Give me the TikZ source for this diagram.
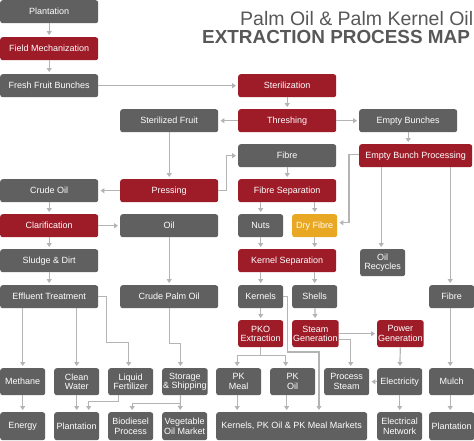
\documentclass[tikz,border=0pt]{standalone}
\usepackage{fontspec}
\setmainfont{Liberation Sans}
\usepackage{tikz}
\usetikzlibrary{arrows.meta, positioning}
\usepackage{xcolor}
\definecolor{boxgray}{RGB}{96,96,96}
\definecolor{boxred}{RGB}{158,27,40}
\definecolor{boxyellow}{RGB}{233,168,36}
\definecolor{linegray}{RGB}{180,180,180}
\definecolor{titlegray}{RGB}{88,88,88}

\begin{document}
\begin{tikzpicture}[
  x=1pt, y=-1pt,
  box/.style={rectangle, rounded corners=2.5pt, anchor=north west, minimum height=23pt, inner sep=1pt, align=center, text=white, font=\fontsize{9}{9.6}\selectfont},
  gbox/.style={box, fill=boxgray},
  rbox/.style={box, fill=boxred},
  ybox/.style={box, fill=boxyellow},
  wide/.style={minimum width=98pt},
  small/.style={minimum width=45pt},
  tall/.style={minimum height=27pt},
  title/.style={anchor=base west, inner sep=0pt, text=titlegray},
  arrow/.style={-{Triangle[length=4pt, width=5pt]}, line width=1.2pt, linegray, shorten >=2pt},
  link/.style={line width=1.2pt, linegray}
]
\useasboundingbox (0,0) rectangle (474,440);

% title
\node[title, font=\fontsize{19.5}{20}\selectfont] (maintitle) at (240,25) {Palm Oil \& Palm Kernel Oil};
\node[title, font=\bfseries\fontsize{18.9}{20}\selectfont] (subtitle) at (202,43) {EXTRACTION PROCESS MAP};

% fruit line
\node[gbox, wide] (plant) at (0,0) {Plantation};
\node[rbox, wide] (fieldmech) at (0,37) {Field Mechanization};
\node[gbox, wide] (ffb) at (0,74) {Fresh Fruit Bunches};
\node[rbox, wide] (steril) at (238,74) {Sterilization};
\node[gbox, wide] (sfruit) at (120,109) {Sterilized Fruit};
\node[rbox, wide] (thresh) at (238,109) {Threshing};
\node[gbox, wide] (ebunch) at (359,109) {Empty Bunches};
\node[gbox, wide] (fibre) at (238,144) {Fibre};
\node[rbox, minimum width=113pt] (ebproc) at (359,144) {Empty Bunch Processing};

% oil line
\node[gbox, wide] (crude) at (0,179) {Crude Oil};
\node[rbox, wide] (press) at (120,179) {Pressing};
\node[rbox, wide] (fibresep) at (238,179) {Fibre Separation};
\node[rbox, wide] (clarif) at (0,214) {Clarification};
\node[gbox, wide] (oil) at (120,214) {Oil};
\node[gbox, small] (nuts) at (238,214) {Nuts};
\node[ybox, small] (dryfibre) at (292,214) {Dry Fibre};
\node[gbox, wide] (sludge) at (0,249) {Sludge \& Dirt};
\node[rbox, wide] (kernelsep) at (238,249) {Kernel Separation};
\node[gbox, small, tall] (recycle) at (360,249) {Oil\\Recycles};
\node[gbox, wide] (effluent) at (0,285) {Effluent Treatment};
\node[gbox, wide] (cpo) at (120,285) {Crude Palm Oil};
\node[gbox, small] (kernels) at (238,285) {Kernels};
\node[gbox, small] (shells) at (292,285) {Shells};
\node[gbox, small] (fibretwo) at (429,285) {Fibre};
\node[rbox, small, tall] (pko) at (238,320) {PKO\\Extraction};
\node[rbox, small, tall] (steamgen) at (292,320) {Steam\\Generation};
\node[rbox, small, tall] (powergen) at (377,320) {Power\\Generation};

% products
\node[gbox, small, tall] (methane) at (0,368) {Methane};
\node[gbox, small, tall] (water) at (54,368) {Clean\\Water};
\node[gbox, small, tall] (liqfert) at (108,368) {Liquid\\Fertilizer};
\node[gbox, small, tall] (storage) at (162,368) {Storage\\\& Shipping};
\node[gbox, small, tall] (pkmeal) at (216,368) {PK\\Meal};
\node[gbox, small, tall] (pkoil) at (270,368) {PK\\Oil};
\node[gbox, small, tall] (psteam) at (324,368) {Process\\Steam};
\node[gbox, small, tall] (electric) at (377,368) {Electricity};
\node[gbox, small, tall] (mulch) at (429,368) {Mulch};

% markets
\node[gbox, small, minimum height=28pt] (energy) at (0,412) {Energy};
\node[gbox, small, minimum height=28pt] (planttwo) at (54,412) {Plantation};
\node[gbox, small, minimum height=28pt] (biodiesel) at (108,412) {Biodiesel\\Process};
\node[gbox, small, minimum height=28pt] (vegoil) at (162,412) {Vegetable\\Oil Market};
\node[gbox, minimum width=151pt, minimum height=28pt] (markets) at (216,412) {Kernels, PK Oil \& PK Meal Markets};
\node[gbox, small, minimum height=28pt] (network) at (377,412) {Electrical\\Network};
\node[gbox, small, minimum height=28pt] (plantthree) at (429,412) {Plantation};

\draw[arrow] (plant) -- (fieldmech);
\draw[arrow] (fieldmech) -- (ffb);
\draw[arrow] (ffb) -- (steril);
\draw[arrow] (steril) -- (thresh);
\draw[arrow] (thresh) -- (sfruit);
\draw[arrow] (thresh) -- (ebunch);
\draw[arrow] (ebunch.south) -- (ebunch.south |- ebproc.north);
\draw[arrow] (sfruit) -- (press);
\draw[arrow] (press) -- (crude);
\draw[arrow] (press.east) -- ++(8,0) |- (fibre.west);
\draw[arrow] (fibre) -- (fibresep);
\draw[arrow] (nuts.north |- fibresep.south) -- (nuts.north);
\draw[arrow] (dryfibre.north |- fibresep.south) -- (dryfibre.north);
\draw[arrow] ([yshift=1pt]ebproc.west) -- ++(-10,0) |- ([yshift=3pt]dryfibre.east);
\draw[arrow] ([xshift=-1.5pt]recycle.north |- ebproc.south) -- ([xshift=-1.5pt]recycle.north);
\draw[arrow] ([xshift=-1.5pt]fibretwo.north |- ebproc.south) -- ([xshift=-1.5pt]fibretwo.north);

\draw[arrow] (crude) -- (clarif);
\draw[arrow] (clarif) -- (oil);
\draw[arrow] (clarif) -- (sludge);
\draw[arrow] (sludge) -- (effluent);
\draw[arrow] (oil) -- (cpo);
\draw[arrow] (nuts.south) -- (nuts.south |- kernelsep.north);
\draw[arrow] (dryfibre.south) -- (dryfibre.south |- kernelsep.north);
\draw[arrow] (kernels.north |- kernelsep.south) -- (kernels.north);
\draw[arrow] (shells.north |- kernelsep.south) -- (shells.north);

% effluent and crude palm oil
\draw[arrow] (methane.north |- effluent.south) -- (methane.north);
\draw[arrow] (water.north |- effluent.south) -- (water.north);
\draw[arrow] (effluent.east) -| ++(8,46) -| ([xshift=-2pt]liqfert.north);
\draw[arrow] (cpo.south) -- ++(0,35) -| ([xshift=-4.5pt]storage.north);
\draw[arrow] (methane) -- (energy);
\draw[arrow] (water) -- (planttwo);
\draw[arrow] ([xshift=-12pt]liqfert.south) -- ++(0,6) -| ([xshift=12pt]planttwo.north);
\draw[arrow] ([xshift=-4.5pt]storage.south) -- ++(0,8) -| ([xshift=1.5pt]biodiesel.north);
\draw[arrow] ([xshift=-4.5pt]storage.south) -- ([xshift=-4.5pt]vegoil.north);

% kernels and shells
\coordinate (kturn) at (319,352);
\draw[arrow] (kernels) -- (pko);
\draw[arrow] (kernels.east) -- ++(4,0) |- (kturn) -- (kturn |- markets.north);
\draw[link] (pko.south) -- ++(0,8) coordinate (pkofork);
\draw[arrow] (pkofork) -| ([xshift=-1.5pt]pkmeal.north);
\draw[arrow] (pkofork) -| ([xshift=-7pt]pkoil.north);
\draw[arrow] ([xshift=-1.5pt]pkmeal.south) -- ([xshift=-1.5pt]pkmeal.south |- markets.north);
\draw[arrow] ([xshift=-6pt]pkoil.south) -- ([xshift=-6pt]pkoil.south |- markets.north);
\draw[arrow] (shells) -- (steamgen);
\draw[arrow] (steamgen) -- (powergen);
\draw[arrow] ([yshift=-6pt]steamgen.east) -| ([xshift=4pt]psteam.north);
\draw[arrow] (powergen) -- (electric);
\draw[arrow] (electric) -- (psteam);
\draw[arrow] (electric) -- (network);
\draw[arrow] ([xshift=-1.5pt]fibretwo.south) -- ([xshift=-1.5pt]mulch.north);
\draw[arrow] ([xshift=-1.5pt]mulch.south) -- ([xshift=-1.5pt]plantthree.north);

\end{tikzpicture}
\end{document}
